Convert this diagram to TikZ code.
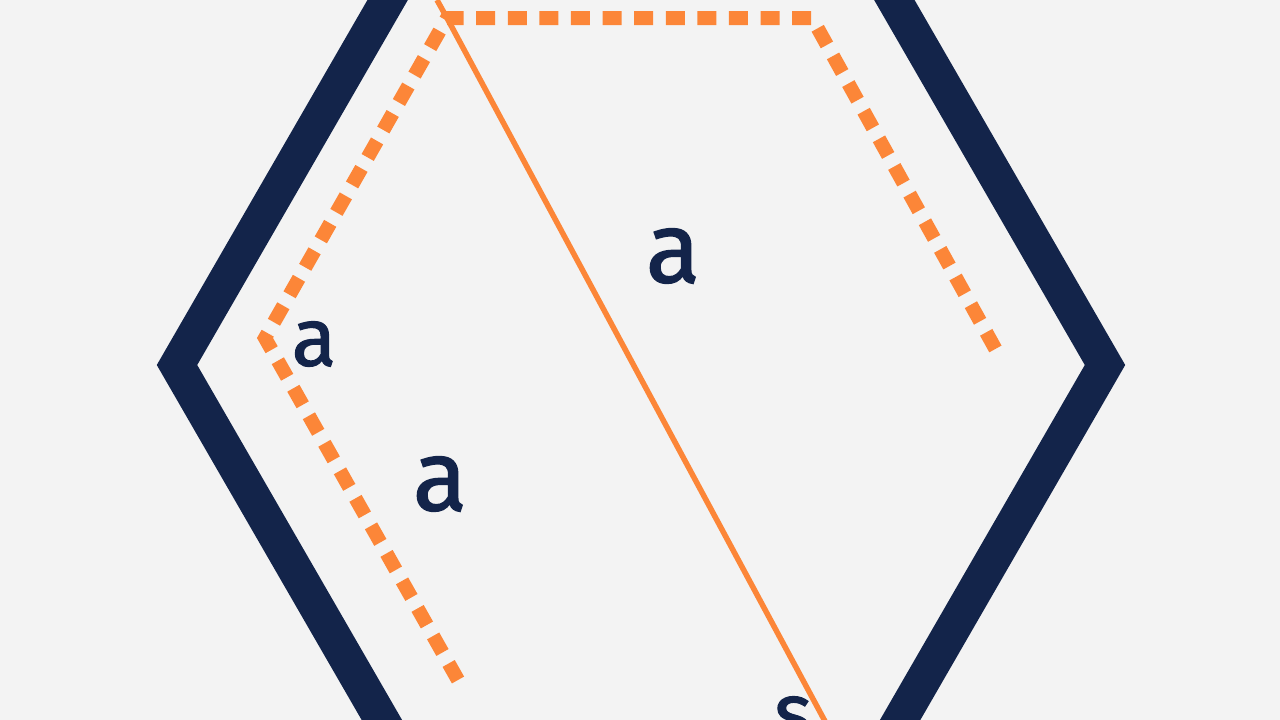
\documentclass[tikz,border=0pt]{standalone}
\usepackage{fontspec}
\setmainfont{Fira Sans}
\newfontfamily\labfont{Fira Sans}[FakeBold=1.3]
\definecolor{bgc}{HTML}{F3F3F3}
\definecolor{navy}{HTML}{13244A}
\definecolor{orng}{HTML}{FC8638}
\tikzset{
  hexline/.style={draw=navy, line width=35pt, line join=miter},
  dashpath/.style={draw=orng, line width=14pt, dash pattern=on 19pt off 12.6pt},
  solidline/.style={draw=orng, line width=5.5pt},
  lab/.style={text=navy, inner sep=0pt, font=\labfont\fontsize{100}{100}\selectfont},
  labsmall/.style={text=navy, inner sep=0pt, font=\labfont\fontsize{82}{82}\selectfont}
}
\begin{document}
\begin{tikzpicture}[x=1pt,y=-1pt]
\useasboundingbox (0,0) rectangle (1280,720);
\fill[bgc] (0,0) rectangle (1280,720);
\clip (0,0) rectangle (1280,720);
% hexagon vertices
\coordinate (hL) at (177,365);
\coordinate (hTL) at (409,-37);
\coordinate (hTR) at (873,-37);
\coordinate (hR) at (1105,365);
\coordinate (hBR) at (873,767);
\coordinate (hBL) at (409,767);
\draw[hexline] (hL) -- (hTL) -- (hTR) -- (hR) -- (hBR) -- (hBL) -- cycle;
% dashed path
\coordinate (d0) at (458,680);
\coordinate (d1) at (265,338);
\coordinate (d2) at (447,18);
\coordinate (d3) at (812,18);
\coordinate (d4) at (996,350);
\draw[dashpath] (d0) -- (d1) -- (d2) -- (d3) -- (d4);
% solid diagonal
\coordinate (s0) at (437,0);
\coordinate (s1) at (834,738);
\draw[solidline] (s0) -- (d2) -- (s1);
% labels
\node[lab] (la1) at (673,256) {a};
\node[labsmall] (la2) at (314,344) {a};
\node[lab] (la3) at (440,484) {a};
\node[labsmall] (ls) at (793,719) {s};
\end{tikzpicture}
\end{document}
